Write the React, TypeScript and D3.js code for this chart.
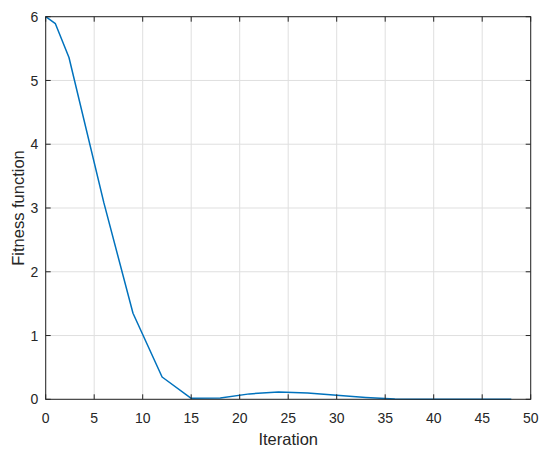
import React from "react";
import { scaleLinear, line as d3_line, range } from "d3";

// iterations and fitness values
const iterations = [0, 1, 2.4, 6, 9, 12, 15, 18, 21, 24, 27, 30, 33, 36, 39, 42, 45, 48];
const fitness = [6.0, 5.89, 5.36, 3.08, 1.35, 0.35, 0.015, 0.02, 0.085, 0.115, 0.1, 0.063, 0.03, 0.006, 0.002, 0.0, 0.001, 0.0];

const xTicks = range(0, 51, 5);
const yTicks = range(0, 7, 1);

const W = 550;
const H = 452;
const margin = { top: 16.7, right: 19.3, bottom: 52.7, left: 45.7 };
const font = "'Liberation Sans', Arial, Helvetica, sans-serif";
const axisColor = "#262626";
const gridColor = "#dfdfdf";
const lineColor = "#0072bd";
const tickLen = 5;

export default function App() {
    const x = scaleLinear().domain([0, 50]).range([margin.left, W - margin.right]);
    const y = scaleLinear().domain([0, 6]).range([H - margin.bottom, margin.top]);

    const pts = iterations.map((it, i) => ({ it, v: fitness[i] }));
    const line = d3_line<(typeof pts)[number]>()
        .x((d) => x(d.it))
        .y((d) => y(d.v));

    const [x0, x1] = x.range();
    const [y0, y1] = y.range();

    return (
        <div style={{ position: "absolute", left: 0, top: 0, width: W, height: H, background: "#fff" }}>
            <svg width={W} height={H} style={{ display: "block" }}>
                <rect x={0} y={0} width={W} height={H} fill="#fff" />

                {/* Grid */}
                {xTicks.map((t) => (
                    <line key={`gx${t}`} x1={x(t)} x2={x(t)} y1={y0} y2={y1} stroke={gridColor} strokeWidth={1} />
                ))}
                {yTicks.map((t) => (
                    <line key={`gy${t}`} x1={x0} x2={x1} y1={y(t)} y2={y(t)} stroke={gridColor} strokeWidth={1} />
                ))}

                {/* Line */}
                <path d={line(pts) ?? ""} fill="none" stroke={lineColor} strokeWidth={1.5} strokeLinejoin="round" />

                {/* Box and ticks */}
                <rect x={x0} y={y1} width={x1 - x0} height={y0 - y1} fill="none" stroke={axisColor} strokeWidth={1} />
                {xTicks.map((t) => (
                    <g key={`tx${t}`}>
                        <line x1={x(t)} x2={x(t)} y1={y0} y2={y0 - tickLen} stroke={axisColor} />
                        <line x1={x(t)} x2={x(t)} y1={y1} y2={y1 + tickLen} stroke={axisColor} />
                        <text
                            x={x(t)}
                            y={y0 + 23.4}
                            textAnchor="middle"
                            fontFamily={font}
                            fontSize={14}
                            fill={axisColor}
                        >
                            {t}
                        </text>
                    </g>
                ))}
                {yTicks.map((t) => (
                    <g key={`ty${t}`}>
                        <line x1={x0} x2={x0 + tickLen} y1={y(t)} y2={y(t)} stroke={axisColor} />
                        <line x1={x1} x2={x1 - tickLen} y1={y(t)} y2={y(t)} stroke={axisColor} />
                        <text
                            x={x0 - 7.4}
                            y={y(t)}
                            dy="0.36em"
                            textAnchor="end"
                            fontFamily={font}
                            fontSize={14}
                            fill={axisColor}
                        >
                            {t}
                        </text>
                    </g>
                ))}

                {/* Axis labels */}
                <text
                    x={(x0 + x1) / 2}
                    y={444.7}
                    textAnchor="middle"
                    fontFamily={font}
                    fontSize={16.5}
                    fill={axisColor}
                >
                    Iteration
                </text>
                <text
                    transform={`translate(23.5,${(y0 + y1) / 2}) rotate(-90)`}
                    textAnchor="middle"
                    fontFamily={font}
                    fontSize={16.5}
                    fill={axisColor}
                >
                    Fitness function
                </text>
            </svg>
        </div>
    );
}
